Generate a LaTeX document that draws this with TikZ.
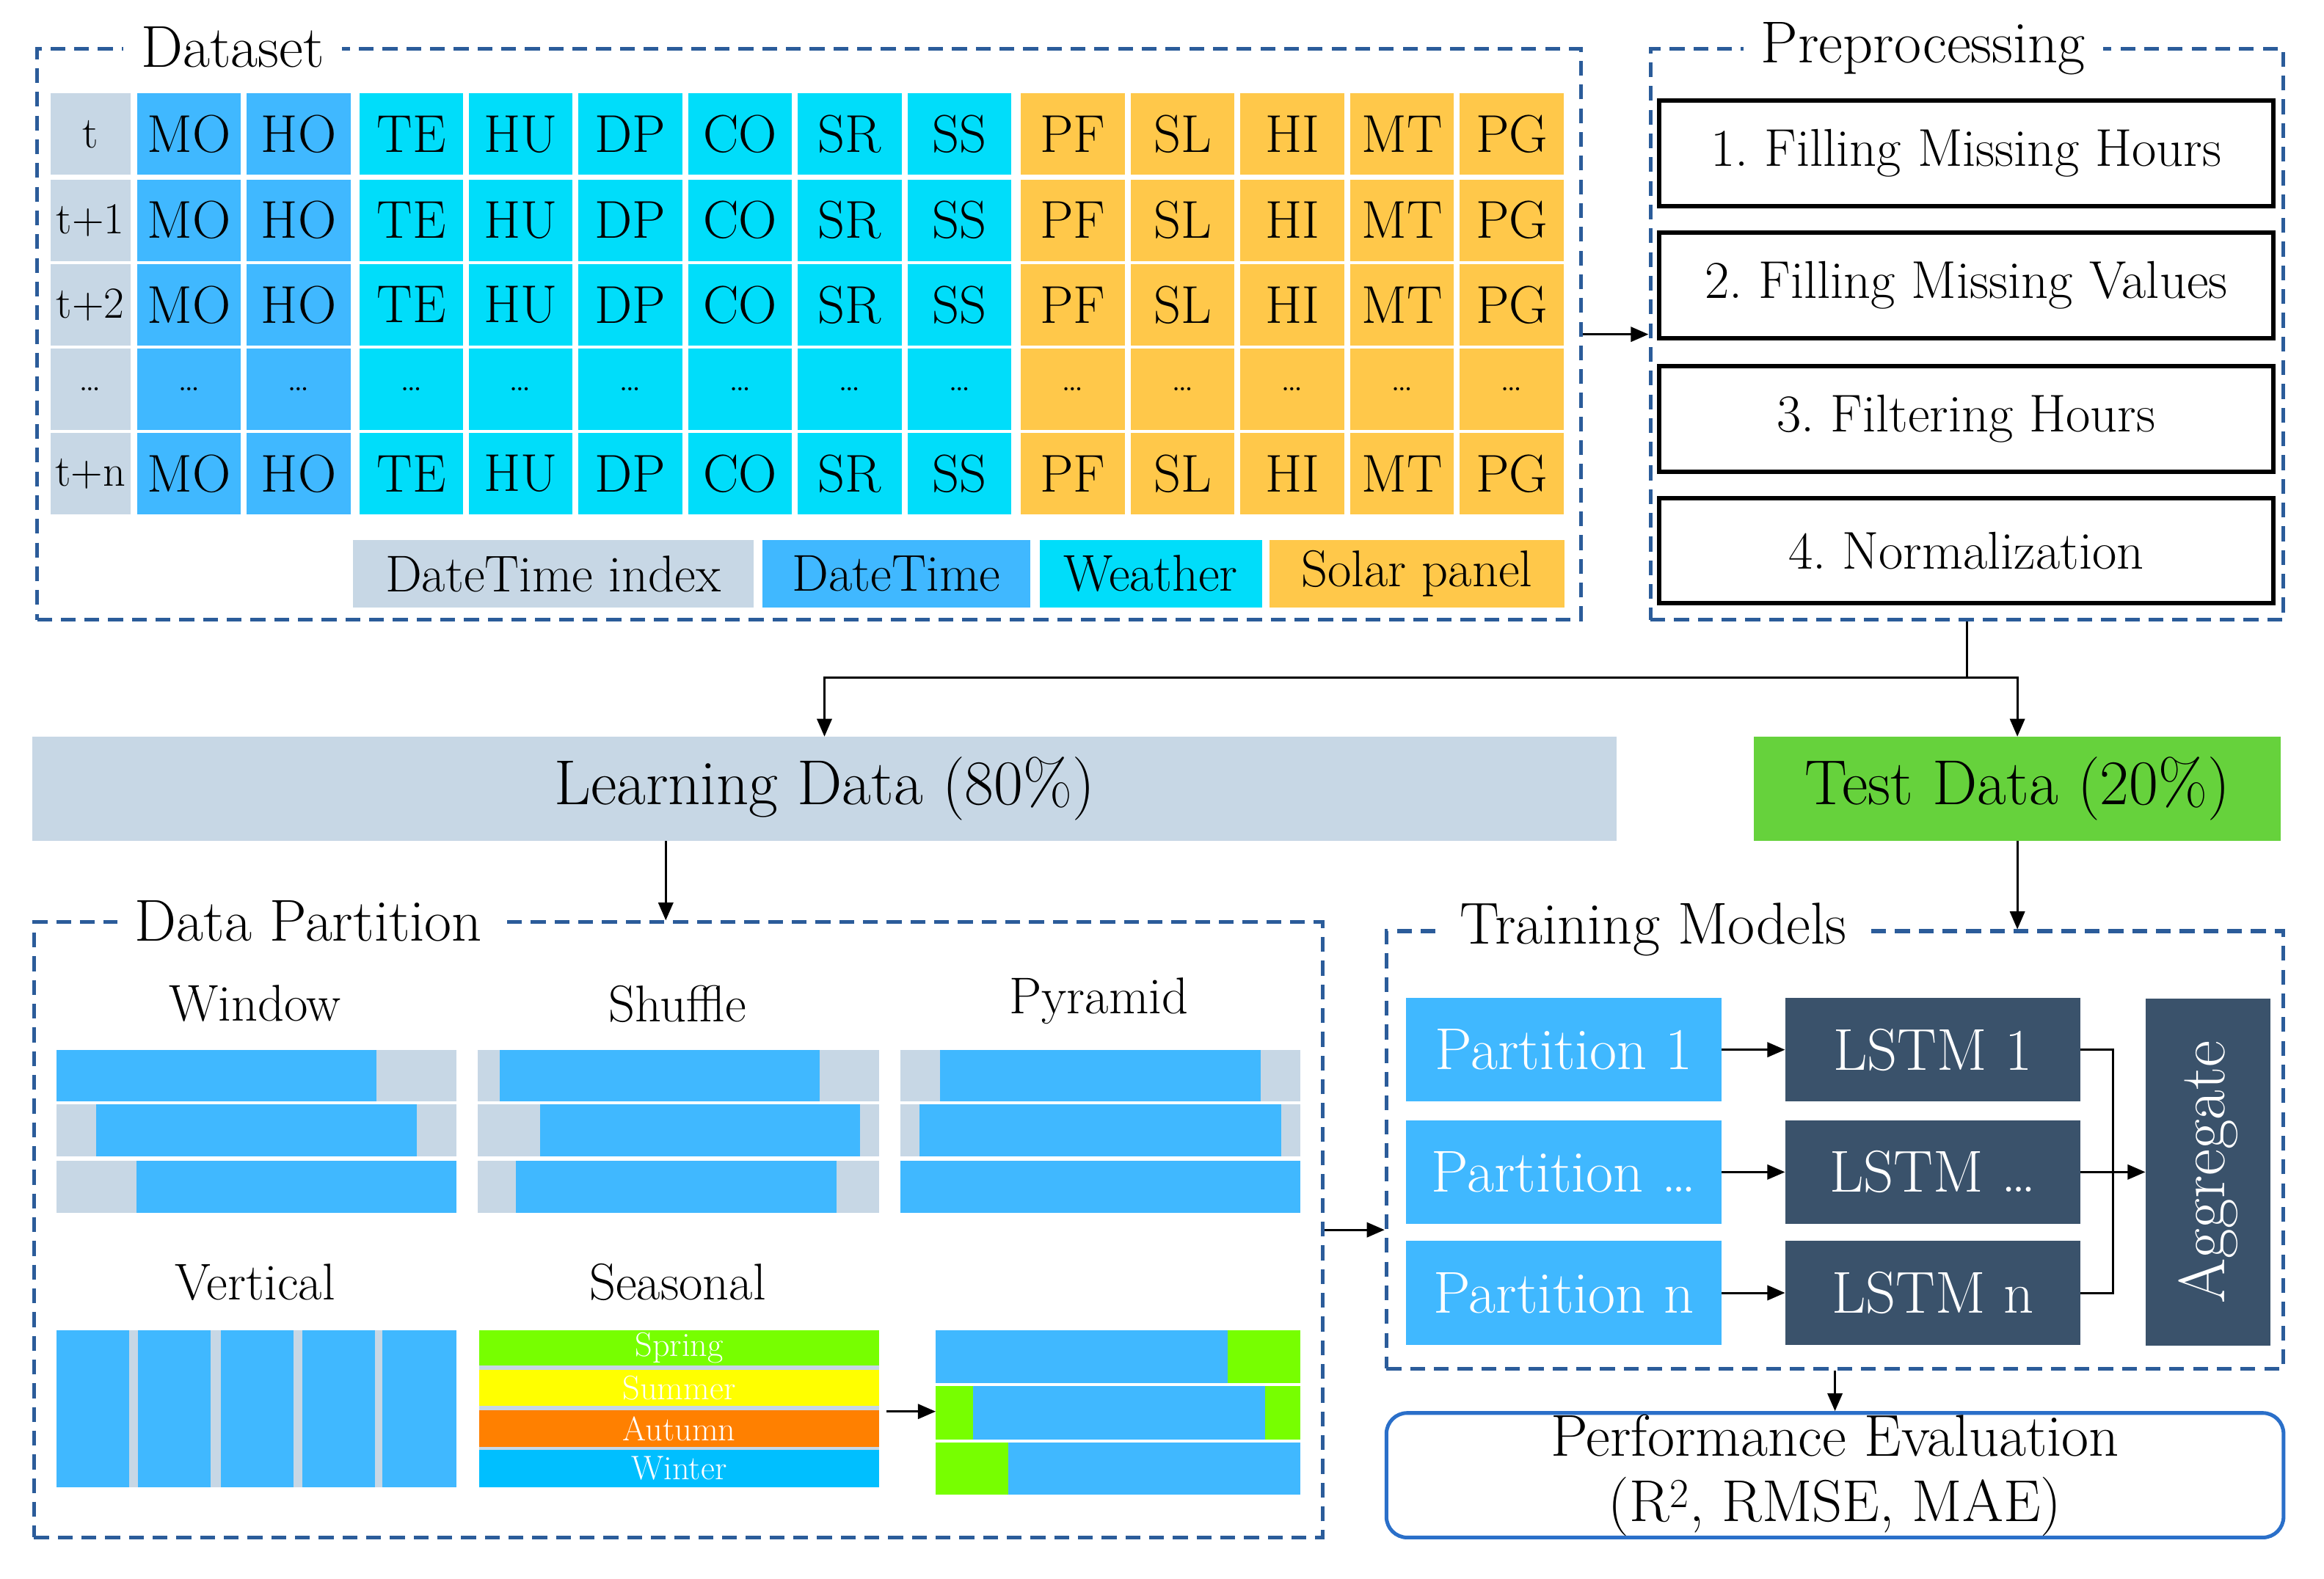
\documentclass[tikz,border=0pt]{standalone}
\usetikzlibrary{arrows.meta}
\definecolor{cgray}{HTML}{C7D7E5}
\definecolor{cblue}{HTML}{40B8FF}
\definecolor{ccyan}{HTML}{00DDFA}
\definecolor{corange}{HTML}{FFC84A}
\definecolor{cgreen}{HTML}{66D23C}
\definecolor{dashc}{HTML}{2B5C9A}
\definecolor{lstmc}{HTML}{3A526B}
\definecolor{sgreen}{HTML}{77FF00}
\definecolor{syellow}{HTML}{FFFF00}
\definecolor{sorange}{HTML}{FF8000}
\definecolor{swinter}{HTML}{00BFFF}
\definecolor{perfc}{HTML}{2A6FC9}
\newcommand{\fs}[1]{\fontsize{#1}{#1}\selectfont}
\frenchspacing
\tikzset{
 dbox/.style={draw=dashc, line width=2.5bp, dash pattern=on 10bp off 6bp, inner sep=0},
 ttl/.style={fill=white, inner xsep=12bp, inner ysep=2bp, font=\fs{40}},
 cellbox/.style={minimum width=70bp, minimum height=55bp, inner sep=0, font=\fs{36}},
 legbox/.style={minimum height=46bp, inner sep=0, font=\fs{35}},
 stepbox/.style={draw=black, line width=3bp, minimum width=414bp, minimum height=71bp, inner sep=0, font=\fs{36}},
 bigbox/.style={minimum height=70bp, inner sep=0, font=\fs{43}},
 partbox/.style={fill=cblue, minimum width=213bp, minimum height=70bp, inner sep=0, text=white, font=\fs{40}},
 lstmbox/.style={fill=lstmc, minimum width=199bp, minimum height=70bp, inner sep=0, text=white, font=\fs{40}},
 lbl/.style={font=\fs{35}},
 slbl/.style={font=\fs{23}, text=white, inner sep=0},
 arr/.style={-{Triangle[length=12bp,width=10bp]}, line width=1.5bp},
 ln/.style={line width=1.5bp}
}
\begin{document}
\begin{tikzpicture}[x=1bp,y=-1bp]
\useasboundingbox (0,0) rectangle (1567.3,1064.5);
% Dataset
\node[dbox, minimum width=1041bp, minimum height=385bp] (ds) at (545.5,225.5) {};
\node[ttl] (dst) at (157,32) {Dataset};
\foreach \r/\y/\lab in {1/90.5/t, 2/148.5/t+1, 3/205.5/t+2, 4/262.5/\ldots, 5/319.5/t+n}{
  \ifnum\r=4
   \node[cellbox, fill=cgray, minimum width=54bp, font=\fs{26}] (c-\r-0) at (61,\y) {\ldots};
  \else
   \node[cellbox, fill=cgray, minimum width=54bp, font=\fs{30}] (c-\r-0) at (61,\y) {\lab};
  \fi
  \foreach \c/\x/\col/\t in {1/127.5/cblue/MO, 2/201.5/cblue/HO, 3/277.5/ccyan/TE, 4/351/ccyan/HU, 5/425/ccyan/DP, 6/499/ccyan/CO, 7/573/ccyan/SR, 8/647/ccyan/SS, 9/723.5/corange/PF, 10/797.5/corange/SL, 11/871.5/corange/HI, 12/945.5/corange/MT, 13/1019.5/corange/PG}{
    \ifnum\r=4
     \node[cellbox, fill=\col, font=\fs{26}] (c-\r-\c) at (\x,\y) {\ldots};
    \else
     \node[cellbox, fill=\col] (c-\r-\c) at (\x,\y) {\t};
    \fi
  }
}
\node[legbox, fill=cgray, minimum width=270bp] (lg1) at (373,387) {DateTime index};
\node[legbox, fill=cblue, minimum width=181bp] (lg2) at (604.5,387) {DateTime};
\node[legbox, fill=ccyan, minimum width=150bp] (lg3) at (776,387) {Weather};
\node[legbox, fill=corange, minimum width=199bp] (lg4) at (955.5,387) {Solar panel};
% Preprocessing
\node[dbox, minimum width=427bp, minimum height=385bp] (pp) at (1326.5,225.5) {};
\node[ttl] (ppt) at (1297,33) {Preprocessing};
\node[stepbox] (s1) at (1326,103.5) {1. Filling Missing Hours};
\node[stepbox] (s2) at (1326,192.5) {2. Filling Missing Values};
\node[stepbox] (s3) at (1326,282.5) {3. Filtering Hours};
\node[stepbox] (s4) at (1326,371.5) {4. Normalization};
\draw[arr] (ds.east) -- (pp.west);
% split
\node[bigbox, fill=cgray, minimum width=1068bp] (learn) at (556,532) {Learning Data (80\%)};
\node[bigbox, fill=cgreen, minimum width=355bp] (test) at (1360.5,532) {Test Data (20\%)};
\coordinate (sp) at (1326.5,457);
\draw[ln] (pp.south) -- (sp);
\draw[arr] (sp) -| (learn.north);
\draw[arr] (sp) -| (test.north);
% Data partition
\node[dbox, minimum width=869bp, minimum height=415bp] (dp) at (457.5,829.5) {};
\node[ttl] (dpt) at (208,621) {Data Partition};
\coordinate (lx) at (449,0);
\draw[arr] (learn.south -| lx) -- (dp.north -| lx);
\node[lbl] (wl) at (172,677) {Window};
\node[lbl] (sl) at (457,677) {Shuffle};
\node[lbl] (pl) at (741,675) {Pyramid};
\node[lbl] (vl) at (172,865) {Vertical};
\node[lbl] (sel) at (457,865) {Seasonal};
% bars rows
\foreach \ya/\yb/\wa/\sa/\pa/\pb in {708/743/38/337/634/850, 745/780/65/364/620/864, 783/818/92/348/607/877}{
  \fill[cgray] (38,\ya) rectangle (308,\yb);
  \fill[cblue] (\wa,\ya) rectangle ++(216,\yb-\ya);
  \fill[cgray] (322,\ya) rectangle (593,\yb);
  \fill[cblue] (\sa,\ya) rectangle ++(216,\yb-\ya);
  \fill[cgray] (607,\ya) rectangle (877,\yb);
  \fill[cblue] (\pa,\ya) rectangle (\pb,\yb);
}
% vertical
\fill[cgray] (38,897) rectangle (308,1003);
\foreach \xa/\xb in {38/87, 93/142, 149/198, 204/253, 258/308}{
  \fill[cblue] (\xa,897) rectangle (\xb,1003);
}
% seasonal
\fill[cgray] (323,897) rectangle (593,1003);
\fill[sgreen] (323,897) rectangle (593,921);
\fill[syellow] (323,924) rectangle (593,948);
\fill[sorange] (323,951) rectangle (593,976);
\fill[swinter] (323,978) rectangle (593,1003);
\node[slbl] (sp1) at (458,909) {Spring};
\node[slbl] (sp2) at (458,936) {Summer};
\node[slbl] (sp3) at (458,963.5) {Autumn};
\node[slbl] (sp4) at (458,990.5) {Winter};
\coordinate (sa) at (598,952);
\coordinate (sb) at (631,952);
\draw[arr] (sa) -- (sb);
\fill[cblue] (631,897) rectangle (828,933); \fill[sgreen] (828,897) rectangle (877,933);
\fill[sgreen] (631,935) rectangle (656,971); \fill[cblue] (656,935) rectangle (853,971); \fill[sgreen] (853,935) rectangle (877,971);
\fill[sgreen] (631,973) rectangle (680,1008); \fill[cblue] (680,973) rectangle (877,1008);
% Training models
\node[dbox, minimum width=605bp, minimum height=295bp] (tm) at (1237.5,775.5) {};
\node[ttl] (tmt) at (1115,627) {Training Models};
\draw[arr] (test.south) -- (tm.north -| test.south);
\draw[arr] (dp.east) -- (dp.east -| tm.west);
\node[partbox] (p1) at (1054.5,708) {Partition 1};
\node[partbox] (p2) at (1054.5,790.5) {Partition \ldots};
\node[partbox] (p3) at (1054.5,872) {Partition n};
\node[lstmbox] (l1) at (1303.5,708) {LSTM 1};
\node[lstmbox] (l2) at (1303.5,790.5) {LSTM \ldots};
\node[lstmbox] (l3) at (1303.5,872) {LSTM n};
\node[fill=lstmc, minimum width=84bp, minimum height=234bp, inner sep=0] (agg) at (1489,790.5) {};
\node[rotate=90, text=white, font=\fs{44}] (aggt) at (agg.center) {Aggregate};
\draw[arr] (p1) -- (l1);
\draw[arr] (p2) -- (l2);
\draw[arr] (p3) -- (l3);
\coordinate (jn) at (1425,790.5);
\draw[ln] (l1.east) -| (jn);
\draw[ln] (l3.east) -| (jn);
\draw[arr] (l2.east) -- (agg.west);
% Performance
\node[draw=perfc, line width=2.5bp, rounded corners=14bp, minimum width=605bp, minimum height=84bp, inner sep=0, align=center, font=\fontsize{40}{44}\selectfont] (perf) at (1237.5,995) {Performance Evaluation\\(R\textsuperscript{2}, RMSE, MAE)};
\draw[arr] (tm.south) -- (perf.north);
\end{tikzpicture}
\end{document}
